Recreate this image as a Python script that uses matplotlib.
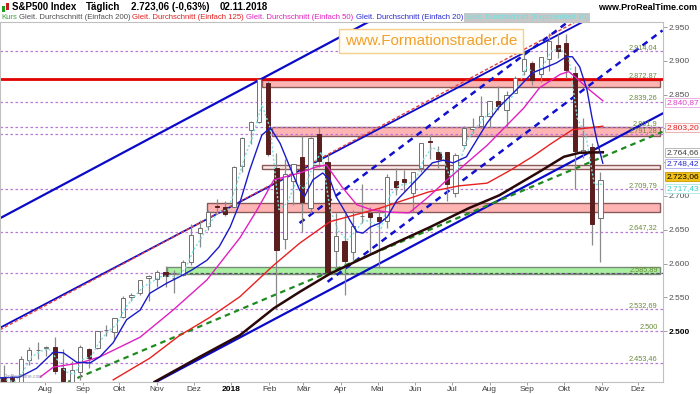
import numpy as np
import pandas as pd
import matplotlib
matplotlib.use("Agg")
import matplotlib.pyplot as plt
import matplotlib.dates as mdates
from matplotlib.patches import Rectangle

plt.rcParams['font.family'] = ['Liberation Sans', 'DejaVu Sans']

# --- weekly candles of the S&P500 (week starting Monday 2017-06-26)
w_open = [2431, 2431, 2424, 2458, 2472, 2475, 2477, 2446, 2425, 2440, 2474, 2475,
          2502, 2499, 2521, 2551, 2556, 2578, 2577, 2588, 2578, 2583, 2603, 2645,
          2655, 2685, 2683, 2683, 2745, 2798, 2810, 2867, 2742, 2636, 2722, 2757,
          2682, 2791, 2750, 2619, 2633, 2617, 2670, 2675, 2669, 2663, 2722, 2725,
          2705, 2741, 2781, 2765, 2765, 2705, 2775, 2799, 2804, 2819, 2840, 2827,
          2853, 2885, 2897, 2880, 2903, 2924, 2926, 2882, 2764, 2773, 2667]
w_high = [2450, 2435, 2463, 2477, 2484, 2478, 2491, 2474, 2456, 2480, 2475, 2500,
          2509, 2520, 2552, 2557, 2576, 2583, 2590, 2597, 2591, 2605, 2658, 2665,
          2680, 2695, 2693, 2744, 2787, 2811, 2873, 2870, 2763, 2754, 2748, 2789,
          2787, 2802, 2762, 2675, 2673, 2680, 2718, 2683, 2682, 2733, 2742, 2739,
          2736, 2779, 2790, 2774, 2765, 2763, 2804, 2816, 2848, 2841, 2863, 2855,
          2877, 2916, 2900, 2906, 2941, 2940, 2940, 2893, 2816, 2779, 2736]
w_low = [2405, 2407, 2418, 2450, 2459, 2464, 2437, 2425, 2417, 2428, 2446, 2474,
         2493, 2489, 2520, 2545, 2553, 2544, 2566, 2566, 2557, 2581, 2598, 2624,
         2650, 2673, 2671, 2683, 2736, 2777, 2808, 2759, 2533, 2622, 2687, 2647,
         2675, 2743, 2586, 2594, 2554, 2605, 2660, 2613, 2594, 2653, 2702, 2707,
         2676, 2735, 2754, 2741, 2692, 2698, 2770, 2793, 2800, 2802, 2827, 2802,
         2852, 2879, 2864, 2868, 2885, 2904, 2874, 2710, 2756, 2628, 2603]
w_close = [2423, 2425, 2459, 2472, 2472, 2477, 2441, 2426, 2443, 2477, 2461, 2500,
           2502, 2519, 2549, 2553, 2575, 2581, 2588, 2582, 2579, 2602, 2642, 2652,
           2676, 2684, 2674, 2743, 2786, 2810, 2873, 2762, 2620, 2732, 2747, 2691,
           2786, 2752, 2588, 2641, 2604, 2656, 2670, 2669, 2663, 2728, 2713, 2721,
           2735, 2779, 2780, 2755, 2718, 2760, 2801, 2802, 2819, 2840, 2833, 2850,
           2875, 2902, 2872, 2905, 2930, 2914, 2886, 2767, 2768, 2659, 2723.06]
# exponential average 10, read at the Friday of each week
ema10 = [2428, 2425, 2440, 2462, 2470, 2474, 2458, 2440, 2436, 2458, 2463, 2485,
         2500, 2510, 2535, 2550, 2565, 2572, 2580, 2582, 2580, 2592, 2620, 2640,
         2662, 2677, 2679, 2715, 2758, 2790, 2835, 2800, 2680, 2690, 2720, 2710,
         2745, 2765, 2680, 2648, 2635, 2648, 2665, 2660, 2652, 2700, 2715, 2718,
         2722, 2755, 2772, 2765, 2730, 2740, 2782, 2798, 2815, 2825, 2835, 2840,
         2860, 2890, 2882, 2893, 2915, 2918, 2905, 2815, 2790, 2717, 2717.43]

# --- simple moving averages at single dates
sma20_dates = ["2017-06-25", "2017-07-11", "2017-07-25", "2017-08-08", "2017-08-16",
               "2017-08-27", "2017-09-07", "2017-09-15", "2017-09-26", "2017-10-07",
               "2017-10-18", "2017-10-26", "2017-11-09", "2017-11-19", "2017-11-30",
               "2017-12-12", "2017-12-22", "2017-12-31", "2018-01-08", "2018-01-16",
               "2018-01-26", "2018-02-02", "2018-02-10", "2018-02-18", "2018-02-26",
               "2018-03-02", "2018-03-09", "2018-03-17", "2018-03-23", "2018-03-28",
               "2018-04-02", "2018-04-08", "2018-04-14", "2018-04-19", "2018-04-25",
               "2018-05-03", "2018-05-09", "2018-05-17", "2018-06-02", "2018-06-15",
               "2018-06-24", "2018-07-02", "2018-07-13", "2018-07-30", "2018-08-09",
               "2018-08-23", "2018-09-05", "2018-09-17", "2018-09-25", "2018-10-03",
               "2018-10-08", "2018-10-14", "2018-10-20", "2018-10-24", "2018-10-28",
               "2018-11-02"]
sma20_vals = [2431, 2432, 2445, 2469, 2468, 2454, 2453, 2462, 2483, 2517, 2531, 2556,
              2571, 2580, 2591, 2605, 2625, 2654, 2690, 2738, 2790, 2801, 2778, 2743,
              2709, 2699, 2724, 2734, 2724, 2699, 2684, 2665, 2647, 2645, 2654, 2660,
              2669, 2694, 2724, 2749, 2753, 2749, 2758, 2808, 2832, 2857, 2882, 2891,
              2897, 2906, 2906, 2891, 2857, 2817, 2783, 2748.42]

sma50_dates = ["2017-07-28", "2017-08-08", "2017-08-30", "2017-09-15", "2017-10-18",
               "2017-11-14", "2017-12-12", "2018-01-08", "2018-01-22", "2018-02-05",
               "2018-02-26", "2018-03-12", "2018-03-20", "2018-04-02", "2018-04-14",
               "2018-04-27", "2018-05-11", "2018-05-27", "2018-06-12", "2018-06-26",
               "2018-07-30", "2018-08-29", "2018-09-11", "2018-09-28", "2018-10-05",
               "2018-10-11", "2018-10-22", "2018-11-02"]
sma50_vals = [2432, 2447, 2453, 2462, 2491, 2531, 2576, 2638, 2679, 2724, 2734, 2743,
              2746, 2713, 2687, 2679, 2676, 2675, 2699, 2722, 2775, 2830, 2860, 2880,
              2884, 2875, 2857, 2840.87]

sma125_dates = ["2017-09-26", "2017-10-26", "2017-11-19", "2017-12-14", "2018-01-08",
                "2018-02-05", "2018-02-26", "2018-03-23", "2018-05-03", "2018-06-12",
                "2018-07-07", "2018-07-30", "2018-08-18", "2018-09-05", "2018-09-21",
                "2018-10-08", "2018-11-02"]
sma125_vals = [2428, 2460, 2493, 2520, 2551, 2598, 2630, 2662, 2682, 2706, 2715, 2719,
               2738, 2758, 2778, 2798, 2803.20]

sma200_dates = ["2017-10-30", "2017-12-06", "2018-01-08", "2018-02-05", "2018-02-26",
                "2018-03-23", "2018-05-03", "2018-06-12", "2018-07-15", "2018-08-09",
                "2018-09-11", "2018-10-01", "2018-10-14", "2018-11-02"]
sma200_vals = [2425, 2462, 2494, 2534, 2558, 2585, 2620, 2653, 2682, 2701, 2736, 2758,
               2764, 2764.66]

# --- drawn trend lines: start and end (date, value)
up_solid_a = (["2017-06-25", "2018-04-23"], [2667, 2957])
up_solid_b = (["2017-10-26", "2018-12-21"], [2420, 2822])
up_solid_c = (["2017-06-25", "2018-10-16"], [2505, 2957])
red_dotted = (["2017-06-25", "2018-10-10"], [2502, 2957])
dash_blue_1 = (["2018-02-26", "2018-10-04"], [2660, 2957])
dash_blue_2 = (["2018-03-21", "2018-12-21"], [2573, 2945])
dash_green = (["2017-08-20", "2018-12-21"], [2425, 2795])

# --- horizontal levels
level_vals = [2914.04, 2872.87, 2839.26, 2801.9, 2791.28, 2709.79, 2647.32, 2585.89,
              2532.69, 2500, 2453.46]
level_text = ["2.914,04", "2.872,87", "2.839,26", "2.801,9", "2.791,28", "2.709,79",
              "2.647,32", "2.585,89", "2.532,69", "2.500", "2.453,46"]
zone_start = ["2018-01-26", "2018-02-03", "2018-01-26", "2017-12-12", "2017-11-09"]
zone_low = [2861, 2789, 2740, 2677, 2585]
zone_high = [2871, 2802, 2746, 2690, 2595]
zone_kind = ["pink", "pink", "pale", "pink", "green"]

last_vals = [2840.87, 2803.20, 2764.66, 2748.42, 2723.06, 2717.43]
last_text = ["2.840,87", "2.803,20", "2.764,66", "2.748,42", "2.723,06", "2.717,43"]

y_ticks = [2500, 2550, 2600, 2650, 2700, 2750, 2800, 2850, 2900, 2950]
y_hidden = [2750, 2800]   # covered by the last-value boxes

month_de = ["Jan", "Feb", "Mär", "Apr", "Mai", "Jun", "Jul", "Aug", "Sep", "Okt", "Nov", "Dez"]

W, H = 700, 394
fig = plt.figure(figsize=(7.0, 3.94), dpi=100)
ax = fig.add_axes([0.0, 12 / H, 663 / W, 360 / H])

aug1 = mdates.date2num(pd.Timestamp("2017-08-01"))
ax.set_xlim(aug1 - 45 / 1.218, aug1 + 618 / 1.218)
ax.set_ylim(2424.8, 2957.4)
x_left, x_right = ax.get_xlim()

def dn(d):
    return mdates.date2num(pd.to_datetime(d))

# zones
zone_style = {"pink": ("#ffb4b4", "#8a5a5a"), "pale": ("#fbe8e8", "#8a5a5a"),
              "green": ("#a8f0a0", "#7a8a7a")}
for s, lo, hi, k in zip(zone_start, zone_low, zone_high, zone_kind):
    fc, ec = zone_style[k]
    x0 = dn(s)
    ax.add_patch(Rectangle((x0, lo), x_right - x0 - 2.5, hi - lo, facecolor=fc,
                           edgecolor=ec, lw=1.0, zorder=1))

# levels
for v in level_vals:
    if v == 2872.87:
        ax.axhline(v, color="#e00000", lw=2.0, zorder=1.6)
    else:
        ax.axhline(v, color="#b878d8", lw=0.9, ls=(0, (2, 2)), zorder=1.5)
ax.axhline(2585.89, xmin=(dn("2017-11-09") - x_left) / (x_right - x_left),
           color="#406040", lw=0.8, ls=(0, (3, 2)), zorder=1.7)
for v, t in zip(level_vals, level_text):
    ax.annotate(t, xy=(0.992, v), xycoords=("axes fraction", "data"), ha="right",
                va="bottom", fontsize=5.3, color="#6a8a3a", zorder=6,
                xytext=(0, 0.3), textcoords="offset points")

# trend lines
def tline(tl, **kw):
    ax.plot(pd.to_datetime(tl[0]), tl[1], **kw)

tline(up_solid_a, color="#0a0ac8", lw=1.6, zorder=2)
tline(up_solid_b, color="#0a0ac8", lw=1.6, zorder=2)
tline(up_solid_c, color="#0a0ac8", lw=1.3, zorder=2)
tline(red_dotted, color="#e04040", lw=1.0, ls=(0, (2.5, 1.5)), zorder=2)
tline(dash_blue_1, color="#1010d0", lw=1.8, ls=(0, (2.5, 2)), zorder=2)
tline(dash_blue_2, color="#1010d0", lw=1.8, ls=(0, (2.5, 2)), zorder=2)
tline(dash_green, color="#1e8a1e", lw=1.6, ls=(0, (2.5, 2)), zorder=2)

# candles
weeks = pd.date_range("2017-06-26", periods=len(w_close), freq="7D")
cx = mdates.date2num(weeks) + 2
o = np.array(w_open, float)
c = np.array(w_close, float)
ax.vlines(cx, w_low, w_high, color="#8a8a8a", lw=0.9, zorder=3)
up = c >= o
ax.bar(cx[up], (c - o)[up], bottom=o[up], width=3.5, facecolor="white",
       edgecolor="#707070", lw=0.7, zorder=3.2)
ax.bar(cx[~up], (o - c)[~up], bottom=c[~up], width=3.5, facecolor="#5a1e1e",
       edgecolor="#5a1e1e", lw=0.7, zorder=3.2)

# averages
fridays = mdates.date2num(weeks) + 4
ax.plot(fridays, ema10, color="#7fe0e0", lw=1.0, ls=(0, (1.5, 1.5)), zorder=3.5)
ax.plot(pd.to_datetime(sma200_dates), sma200_vals, color="#2a0808", lw=1.8, zorder=4)
ax.plot(pd.to_datetime(sma125_dates), sma125_vals, color="#e82020", lw=1.0, zorder=4)
ax.plot(pd.to_datetime(sma50_dates), sma50_vals, color="#e020c0", lw=1.0, zorder=4)
ax.plot(pd.to_datetime(sma20_dates), sma20_vals, color="#1a1ac8", lw=1.0, zorder=4)

# axes styling
for s in ax.spines.values():
    s.set_color("#c0c0c0")
    s.set_linewidth(0.8)
ax.yaxis.tick_right()
ax.set_yticks(y_ticks)
ax.set_yticklabels(["" if v in y_hidden else "{:,}".format(v).replace(",", ".")
                    for v in y_ticks])
ax.tick_params(axis="y", length=3, width=0.6, color="#909090", labelsize=6,
               labelcolor="#505050", pad=1)
for lab in ax.get_yticklabels():
    if lab.get_text() == "2.500":
        lab.set_fontweight("bold")
        lab.set_color("black")

months = pd.date_range("2017-08-01", "2018-12-01", freq="MS")
ax.set_xticks(mdates.date2num(months))
ax.set_xticklabels(["2018" if m.month == 1 else month_de[m.month - 1] for m in months])
ax.tick_params(axis="x", length=2, width=0.6, color="#909090", labelsize=6,
               labelcolor="#404040", pad=1)
for lab in ax.get_xticklabels():
    if lab.get_text() == "2018":
        lab.set_fontweight("bold")
        lab.set_color("black")

# last-value boxes on the right
box_fg = ["#e040c8", "#e02020", "#404040", "#2a2ad0", "black", "#40d0d0"]
box_bg = ["white", "#fff4f4", "white", "white", "#f2c21a", "white"]
box_ec = ["#e8a8e0", "#e8a8a8", "#b0b0b0", "#a8a8f0", "#c89a00", "#a8e8e8"]
box_dy = [-1.5, -1, 0, 0, 2.5, -3]
for v, t, fg, bg, ec, dy in zip(last_vals, last_text, box_fg, box_bg, box_ec, box_dy):
    ax.annotate(t, xy=(1.0, v), xycoords=("axes fraction", "data"), xytext=(2.5, dy),
                textcoords="offset points", ha="left", va="center", fontsize=6,
                color=fg, zorder=7, annotation_clip=False,
                bbox=dict(boxstyle="square,pad=0.12", fc=bg, ec=ec, lw=0.6))

# header rows
renderer = fig.canvas.get_renderer()

def put_row(items, x_px, y_px, size, weight="normal", gap_px=3):
    x = x_px / W
    for txt, col, bg in items:
        kw = {}
        if bg:
            kw["bbox"] = dict(boxstyle="square,pad=0.1", fc=bg, ec="none")
        t = fig.text(x, 1 - y_px / H, txt, fontsize=size, color=col,
                     fontweight=weight, va="center", ha="left", **kw)
        bb = t.get_window_extent(renderer)
        x = (bb.x1 + gap_px) / W

fig.patches.append(Rectangle((2 / W, 1 - 12 / H), 3 / W, 6 / H, transform=fig.transFigure,
                             facecolor="#20a020", edgecolor="none"))
fig.patches.append(Rectangle((6 / W, 1 - 10 / H), 3 / W, 7 / H, transform=fig.transFigure,
                             facecolor="#c02020", edgecolor="none"))
put_row([("S&P500 Index", "black", None), ("Täglich", "black", None),
         ("2.723,06 (-0,63%)", "black", None), ("02.11.2018", "black", None)],
        12, 7, 7, weight="bold", gap_px=10)
put_row([("Kurs", "#40a040", None),
         ("Gleit. Durchschnitt (Einfach 200)", "#505050", None),
         ("Gleit. Durchschnitt (Einfach 125)", "#e02020", None),
         ("Gleit. Durchschnitt (Einfach 50)", "#e020c0", None),
         ("Gleit. Durchschnitt (Einfach 20)", "#2a2ad0", None),
         ("Gleit. Durchschnitt (Exponentiell 10)", "#70e0e0", "#c8c8c8")],
        1, 17.5, 5.55, gap_px=2)
fig.text(697 / W, 1 - 8 / H, "www.ProRealTime.com", fontsize=6.5, fontweight="bold",
         ha="right", va="center", color="black")

# watermark
fig.text(431 / W, 1 - 41 / H, "www.Formationstrader.de", fontsize=11, color="#f2a02a",
         ha="center", va="center", zorder=8,
         bbox=dict(boxstyle="square,pad=0.35", fc="#fffdf6", ec="#f6cf8e", lw=1.0))
ax.text(0.006, 0.012, "ProRealTime.com", transform=ax.transAxes, fontsize=3.5,
        color="#7a7a9a", alpha=0.8, zorder=6)

fig.savefig("out.png", dpi=100)
